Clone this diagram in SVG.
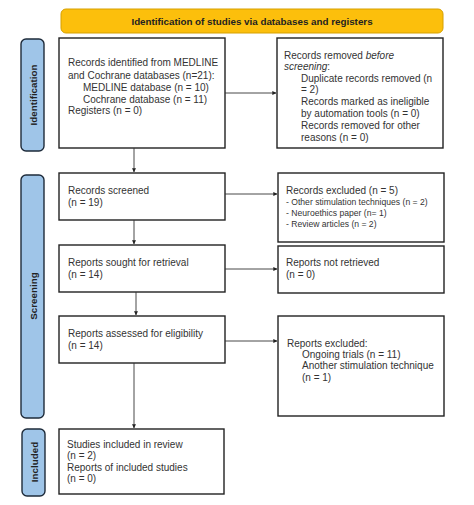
<svg xmlns="http://www.w3.org/2000/svg" width="474" height="505" viewBox="0 0 474 505">
<defs>
<marker id="ah" viewBox="0 0 6 6" refX="5.5" refY="3" markerWidth="4" markerHeight="4" orient="auto" markerUnits="userSpaceOnUse">
<path d="M0,0 L6,3 L0,6 z" fill="#222"/>
</marker>
</defs>
<style>
.box{fill:#fff;stroke:#222;stroke-width:1.4}
.side{fill:#9fc5e8;stroke:#1e2b3a;stroke-width:1.4}
.t{font-family:"Liberation Sans",Arial,sans-serif;font-size:10px;fill:#333}
.s{font-family:"Liberation Sans",Arial,sans-serif;font-size:8.6px;fill:#333}
.b{font-family:"Liberation Sans",Arial,sans-serif;font-size:9.8px;font-weight:bold;fill:#222}
.c{fill:none;stroke:#333;stroke-width:0.9}
</style>
<rect width="474" height="505" fill="#fff"/>
<g id="header">
<rect x="61" y="9" width="382" height="24" rx="5" fill="#fcbf0c" stroke="#d6a000" stroke-width="1"/>
<text class="b" x="252" y="24.5" text-anchor="middle">Identification of studies via databases and registers</text>
</g>
<g id="label-identification">
<rect class="side" x="21" y="39" width="23" height="112" rx="5"/>
<text class="b" transform="translate(36.5,95) rotate(-90)" text-anchor="middle">Identification</text>
</g>
<g id="label-screening">
<rect class="side" x="21" y="175" width="23" height="243" rx="5"/>
<text class="b" transform="translate(36.5,296) rotate(-90)" text-anchor="middle">Screening</text>
</g>
<g id="label-included">
<rect class="side" x="22" y="429" width="23" height="67" rx="5"/>
<text class="b" transform="translate(37.5,462) rotate(-90)" text-anchor="middle">Included</text>
</g>
<g id="records-identified">
<rect class="box" x="59" y="38" width="166" height="110"/>
<text class="t" x="68" y="66">Records identified from MEDLINE</text>
<text class="t" x="68" y="79">and Cochrane databases (n=21):</text>
<text class="t" x="83" y="91">MEDLINE database (n = 10)</text>
<text class="t" x="83" y="103">Cochrane database (n = 11)</text>
<text class="t" x="68" y="114">Registers (n = 0)</text>
</g>
<g id="records-removed">
<rect class="box" x="277" y="38" width="166" height="110"/>
<text class="t" x="284" y="59">Records removed <tspan font-style="italic">before</tspan></text>
<text class="t" x="284" y="70" font-style="italic">screening<tspan font-style="normal">:</tspan></text>
<text class="t" x="301" y="82">Duplicate records removed  (n</text>
<text class="t" x="301" y="93">= 2)</text>
<text class="t" x="301" y="105">Records marked as ineligible</text>
<text class="t" x="301" y="117">by automation tools (n = 0)</text>
<text class="t" x="301" y="129">Records removed for other</text>
<text class="t" x="301" y="141">reasons (n = 0)</text>
</g>
<g id="records-screened">
<rect class="box" x="59" y="173" width="166" height="47"/>
<text class="t" x="68" y="194">Records screened</text>
<text class="t" x="68" y="206">(n = 19)</text>
</g>
<g id="records-excluded">
<rect class="box" x="278" y="173" width="166" height="69"/>
<text class="t" x="286" y="194">Records excluded (n = 5)</text>
<text class="s" x="286" y="205">- Other stimulation techniques (n = 2)</text>
<text class="s" x="286" y="216">- Neuroethics paper (n= 1)</text>
<text class="s" x="286" y="227">- Review articles (n = 2)</text>
</g>
<g id="reports-sought">
<rect class="box" x="59" y="245" width="166" height="47"/>
<text class="t" x="68" y="266">Reports sought for retrieval</text>
<text class="t" x="68" y="278">(n = 14)</text>
</g>
<g id="reports-not-retrieved">
<rect class="box" x="278" y="246" width="166" height="47"/>
<text class="t" x="286" y="266">Reports not retrieved</text>
<text class="t" x="286" y="278">(n = 0)</text>
</g>
<g id="reports-assessed">
<rect class="box" x="59" y="316" width="166" height="47"/>
<text class="t" x="68" y="337">Reports assessed for eligibility</text>
<text class="t" x="68" y="349">(n = 14)</text>
</g>
<g id="reports-excluded">
<rect class="box" x="278" y="316" width="166" height="100"/>
<text class="t" x="287" y="347">Reports excluded:</text>
<text class="t" x="302" y="358">Ongoing trials (n = 11)</text>
<text class="t" x="302" y="369">Another stimulation technique</text>
<text class="t" x="302" y="381">(n = 1)</text>
</g>
<g id="studies-included">
<rect class="box" x="59" y="429" width="165" height="65"/>
<text class="t" x="67" y="448">Studies included in review</text>
<text class="t" x="67" y="459">(n = 2)</text>
<text class="t" x="67" y="471">Reports of included studies</text>
<text class="t" x="67" y="482">(n = 0)</text>
</g>
<g id="connectors">
<line class="c" x1="225" y1="93" x2="276" y2="93" marker-end="url(#ah)"/>
<line class="c" x1="134" y1="148" x2="134" y2="172" marker-end="url(#ah)"/>
<line class="c" x1="225" y1="194" x2="277" y2="194" marker-end="url(#ah)"/>
<line class="c" x1="134" y1="220" x2="134" y2="244" marker-end="url(#ah)"/>
<line class="c" x1="225" y1="269" x2="277" y2="269" marker-end="url(#ah)"/>
<line class="c" x1="136" y1="292" x2="136" y2="315" marker-end="url(#ah)"/>
<line class="c" x1="225" y1="341" x2="277" y2="341" marker-end="url(#ah)"/>
<line class="c" x1="134" y1="363" x2="134" y2="428" marker-end="url(#ah)"/>
</g>
</svg>
